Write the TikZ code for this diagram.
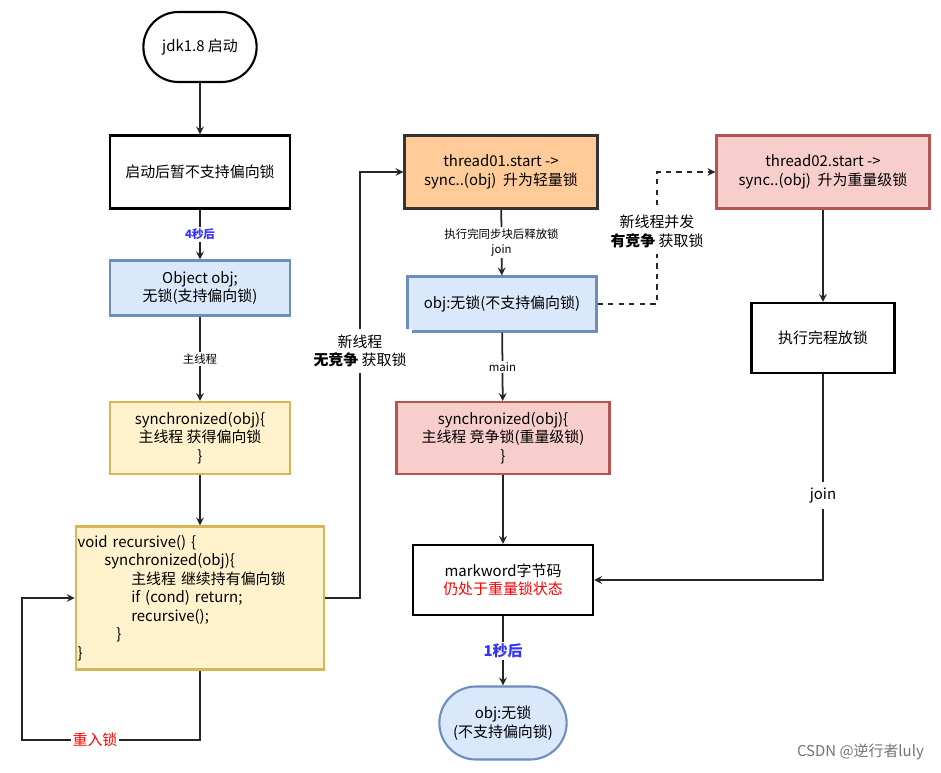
\documentclass[tikz,border=0pt]{standalone}
\usepackage{fontspec}
\setmainfont{Noto Sans CJK SC}
\usetikzlibrary{positioning,shapes.misc}
\definecolor{blueFill}{HTML}{DAE8FC}
\definecolor{blueLine}{HTML}{6C8EBF}
\definecolor{yellowFill}{HTML}{FFF2CC}
\definecolor{yellowLine}{HTML}{D6B656}
\definecolor{redFill}{HTML}{F8CECC}
\definecolor{redLine}{HTML}{B85450}
\definecolor{orangeFill}{HTML}{FFCC99}
\definecolor{labelBlue}{HTML}{3333FF}
\begin{document}
\begin{tikzpicture}[%
    x=0.02cm, y=-0.02cm,
    every node/.style={font=\fontsize{8.5}{10.5}\selectfont},
    box/.style={%
        draw,
        line width=1.2pt,
        align=center,
        inner sep=2pt
    },
    plain/.style={box, fill=white, draw=black},
    blueBox/.style={box, fill=blueFill, draw=blueLine},
    yellowBox/.style={box, fill=yellowFill, draw=yellowLine},
    redBox/.style={box, fill=redFill, draw=redLine},
    orangeBox/.style={box, fill=orangeFill, draw=black!80},
    terminal/.style={%
        draw,
        rounded rectangle,
        line width=1.2pt,
        align=center
    },
    small/.style={font=\fontsize{6.5}{8}\selectfont, fill=white, inner sep=1pt, align=center},
    flow/.style={->, >=stealth, line width=1pt, draw=black!85}
]
\useasboundingbox (0,0) rectangle (941,772);

% Left column
    \node[terminal, minimum width=2.5cm, minimum height=1.4cm] (start) at (200,47) {jdk1.8 启动};
    \node[plain, minimum width=3.6cm, minimum height=1.46cm] (noBias) at (200,172) {启动后暂不支持偏向锁};
    \node[blueBox, minimum width=3.6cm, minimum height=1.1cm] (objInit) at (200,288) {Object obj;\\无锁(支持偏向锁)};
    \node[yellowBox, minimum width=3.6cm, minimum height=1.44cm] (syncMain) at (200,438) {synchronized(obj)\{\\主线程 获得偏向锁\\\}};
    \node[yellowBox, text width=4.9cm, minimum height=2.86cm, align=left, inner xsep=1pt] (recur) at (200,598)
        {void recursive() \{\\
         \hspace*{1.8em}synchronized(obj)\{\\
         \hspace*{3.6em}主线程 继续持有偏向锁\\
         \hspace*{3.6em}if (cond) return;\\
         \hspace*{3.6em}recursive();\\
         \hspace*{2.6em}\}\\
         \}};
    \coordinate (loopA) at (200,740);
    \coordinate (loopB) at (22,740);
    \coordinate (loopC) at (22,598);

% Middle column
    \node[orangeBox, minimum width=3.86cm, minimum height=1.46cm] (light) at (501,172) {thread01.start ->\\sync..(obj)~ 升为轻量锁};
    \node[blueBox, minimum width=3.78cm, minimum height=1.1cm] (objFree) at (502,304) {obj:无锁(不支持偏向锁)};
    \node[redBox, minimum width=4.26cm, minimum height=1.44cm] (syncHeavy) at (503,438) {synchronized(obj)\{\\主线程 竞争锁(重量级锁)\\\}};
    \node[plain, minimum width=3.6cm, minimum height=1.4cm] (markword) at (503,580) {markword字节码\\\textcolor{red}{仍处于重量锁状态}};
    \node[terminal, fill=blueFill, draw=blueLine, minimum width=2.78cm, minimum height=1.46cm] (endObj) at (503,723) {obj:无锁\\(不支持偏向锁)};
    \coordinate (upA) at (360,598);
    \coordinate (upB) at (360,172);

% Right column
    \node[redBox, minimum width=4.26cm, minimum height=1.46cm] (heavy) at (823,172) {thread02.start ->\\sync..(obj)~ 升为重量级锁};
    \node[plain, minimum width=2.86cm, minimum height=1.4cm] (release) at (823,338) {执行完程放锁};
    \coordinate (dashA) at (657,304);
    \coordinate (dashB) at (657,172);
    \coordinate (joinA) at (823,580);

% Arrows
\draw[flow] (start) -- (noBias);
\draw[flow] (noBias) -- node[small, text=labelBlue, font=\fontsize{6.5}{8}\bfseries] {4秒后} (objInit);
\draw[flow] (objInit) -- node[small] {主线程} (syncMain);
\draw[flow] (syncMain) -- (recur);
\draw[flow] (recur.south) -- (loopA) -- node[pos=0.59, fill=white, inner sep=1pt, text=red] {重入锁} (loopB) -- (loopC) -- (recur.west);
\draw[flow] (recur.east) -- (upA) -- node[fill=white, align=center, pos=0.58] {新线程\\\textbf{\textit{无竞争}} 获取锁} (upB) -- (light.west);
\draw[flow] (light) -- node[small] {执行完同步块后释放锁\\join} (objFree);
\draw[flow, dashed] (objFree.east) -- (dashA) -- node[fill=white, align=center, pos=0.55] {新线程并发\\\textbf{\textit{有竞争}} 获取锁} (dashB) -- (heavy.west);
\draw[flow] (objFree) -- node[small] {main} (syncHeavy);
\draw[flow] (syncHeavy) -- (markword);
\draw[flow] (markword) -- node[small, text=labelBlue, font=\fontsize{8.5}{10}\bfseries] {1秒后} (endObj);
\draw[flow] (heavy) -- (release);
\draw[flow] (release) -- node[fill=white, pos=0.59] {join} (joinA) -- (markword.east);

\node[text=black!55, anchor=east] (mark) at (930,752) {CSDN @逆行者luly};
\end{tikzpicture}
\end{document}
